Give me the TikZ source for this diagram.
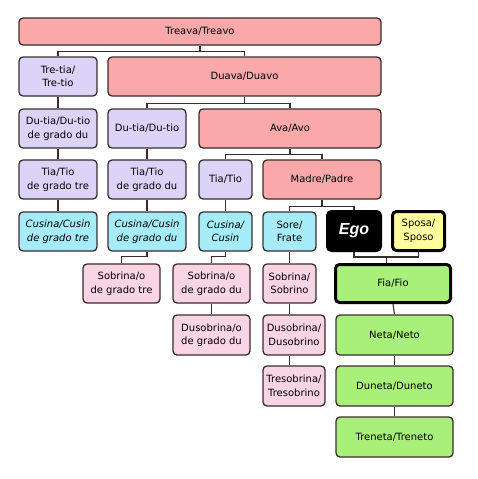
\documentclass[tikz,border=0pt]{standalone}
\usepackage{fontspec}
\setmainfont{DejaVu Sans}
\newfontfamily\egofont{Liberation Sans}
\usepackage{xcolor}
\usetikzlibrary{calc}
\definecolor{salmon}{HTML}{F9A9A9}
\definecolor{lavend}{HTML}{DCD4F8}
\definecolor{cyanbox}{HTML}{A6ECF8}
\definecolor{pinkbox}{HTML}{F9D4E4}
\definecolor{greenbox}{HTML}{A9F07B}
\definecolor{yellowbox}{HTML}{FFFF9E}
\definecolor{edge}{HTML}{3A2C2C}

\begin{document}
\begin{tikzpicture}[x=1pt,y=-1pt,
  kin/.style={draw=edge,line width=1.3pt,rounded corners=4pt,align=center,
    inner sep=1pt,font=\fontsize{10}{13.5}\selectfont,minimum width=#1},
  kin/.default=78pt,
  anc/.style={kin=#1,fill=salmon,minimum height=39pt},
  lat/.style={kin=#1,fill=lavend,minimum height=39pt},
  cus/.style={kin=#1,fill=cyanbox,minimum height=39pt,
    font=\fontsize{10}{13.5}\selectfont\itshape},
  sib/.style={kin=#1,fill=cyanbox,minimum height=39pt},
  nep/.style={kin=#1,fill=pinkbox,minimum height=39pt},
  des/.style={kin=#1,fill=greenbox,minimum height=40pt},
  heavy/.style={line width=3pt,draw=black},
  link/.style={draw=edge,line width=1.1pt}]
\useasboundingbox (0,0) rectangle (477,479);
% ancestors
\node[anc=362pt,minimum height=27pt] (treava) at (200,31.5) {Treava/Treavo};
\node[lat=78pt] (tretia) at (58,76.5) {Tre-tia/\\Tre-tio};
\node[anc=273pt] (duava) at (244.5,76.5) {Duava/Duavo};
\node[lat=78pt] (dutia3) at (58,128.5) {Du-tia/Du-tio\\de grado du};
\node[lat=78pt] (dutia2) at (147,128.5) {Du-tia/Du-tio};
\node[anc=182pt] (ava) at (290,128.5) {Ava/Avo};
\node[lat=78pt] (tia3) at (58,179.5) {Tia/Tio\\de grado tre};
\node[lat=78pt] (tia2) at (147,179.5) {Tia/Tio\\de grado du};
\node[lat=53pt] (tia) at (225.5,179.5) {Tia/Tio};
\node[anc=118pt] (madre) at (322,179.5) {Madre/Padre};
% cousins, siblings, ego
\node[cus=78pt] (cusin3) at (58,231.5) {Cusina/Cusin\\de grado tre};
\node[cus=78pt] (cusin2) at (147,231.5) {Cusina/Cusin\\de grado du};
\node[cus=53pt] (cusin) at (225.5,231.5) {Cusina/\\Cusin};
\node[sib=53pt] (sore) at (289.5,231.5) {Sore/\\Frate};
\node[kin=53pt,heavy,fill=black,text=white,minimum height=39pt,
  font=\egofont\fontsize{16}{18}\selectfont\bfseries\itshape] (ego) at (354,231) {Ego};
\node[kin=52pt,heavy,fill=yellowbox,minimum height=39pt] (sposa) at (418.5,231) {Sposa/\\Sposo};
% nephews
\node[nep=77pt] (sobr3) at (121.5,283.5) {Sobrina/o\\de grado tre};
\node[nep=77pt] (sobr2) at (211.5,283.5) {Sobrina/o\\de grado du};
\node[nep=53pt] (sobr) at (289.5,283.5) {Sobrina/\\Sobrino};
\node[nep=77pt,minimum height=40pt] (dusobr2) at (211.5,335) {Dusobrina/o\\de grado du};
\node[nep=62pt,minimum height=40pt] (dusobr) at (294,335) {Dusobrina/\\Dusobrino};
\node[nep=62pt,minimum height=40pt] (tresobr) at (294,386) {Tresobrina/\\Tresobrino};
% descendants
\node[des=115pt,heavy,minimum height=38pt] (fia) at (393,283.5) {Fia/Fio};
\node[des=117pt] (neta) at (394.5,335) {Neta/Neto};
\node[des=117pt] (duneta) at (394.5,386) {Duneta/Duneto};
\node[des=117pt] (treneta) at (394.5,437) {Treneta/Treneto};
% connectors
\draw[link] (treava.south) -- ++(0,6) coordinate (b1) (b1) -| (tretia.north) (b1) -| (duava.north);
\draw[link] (duava.south) -- ++(0,7) coordinate (b2) (b2) -| (dutia2.north) (b2) -| (ava.north);
\draw[link] (ava.south) -- ++(0,6) coordinate (b3) (b3) -| (tia.north) (b3) -| (madre.north);
\draw[link] (madre.south) -- ++(0,7) coordinate (b4) (b4) -| (sore.north) (b4) -| (ego.north);
\draw[link] (ego.south) -- ++(0,5) -| (sposa.south);
\coordinate (b5) at ($(ego.south)!0.5!(sposa.south)+(0,5)$);
\draw[link] (b5) -- (b5 |- fia.north);
\foreach \u/\v in {tretia/dutia3, dutia3/tia3, tia3/cusin3, dutia2/tia2, tia2/cusin2,
  tia/cusin, sore/sobr, sobr2/dusobr2, fia/neta, neta/duneta, duneta/treneta} {
  \draw[link] (\u.south) -- (\v.north); }
\draw[link] (sobr.south) -- (sobr.south |- dusobr.north);
\draw[link] (dusobr.south -| sobr.south) -- (tresobr.north -| sobr.south);
\draw[link] (cusin2.south) -- ++(0,5) -| (sobr3.north);
\draw[link] (cusin.south) -- ++(0,5) -| (sobr2.north);
\end{tikzpicture}
\end{document}
